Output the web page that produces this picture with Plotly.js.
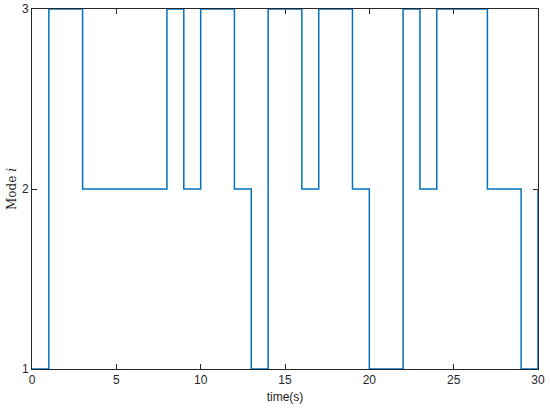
<!DOCTYPE html>
<html>
<head>
<meta charset="utf-8">
<script src="https://cdn.plot.ly/plotly-3.0.1.min.js"></script>
<style>
  body { margin: 0; background: #fff; }
  #chart { width: 550px; height: 409px; }
</style>
</head>
<body>
<div id="chart"></div>
<script>
// switching times and the mode held from each one
var times = [0, 1, 3, 8, 9, 10, 12, 13, 14, 16, 17, 19, 20, 22, 23, 24, 27, 29, 30];
var modes = [1, 3, 2, 3, 2, 3, 2, 1, 3, 2, 3, 2, 1, 3, 2, 3, 2, 1, 2];
var xTicks = [0, 5, 10, 15, 20, 25, 30];
var yTicks = [1, 2, 3];

var axisColor = '#262626';

var trace = {
  x: times,
  y: modes,
  type: 'scatter',
  mode: 'lines',
  line: { shape: 'hv', color: '#0072BD', width: 1.5 },
  cliponaxis: false,
  hoverinfo: 'none'
};

var layout = {
  width: 550,
  height: 409,
  margin: { l: 32, r: 12, t: 9, b: 40 },
  paper_bgcolor: '#fff',
  plot_bgcolor: '#fff',
  showlegend: false,
  font: { family: 'Liberation Sans, Arial, sans-serif', size: 12, color: axisColor },
  xaxis: {
    range: [0, 30],
    tickvals: xTicks,
    ticks: 'inside',
    ticklen: 5,
    tickcolor: axisColor,
    showline: true,
    linecolor: axisColor,
    linewidth: 1,
    mirror: 'allticks',
    layer: 'below traces',
    showgrid: false,
    zeroline: false,
    tickfont: { size: 12, color: axisColor },
    title: { text: 'time(s)', font: { size: 12, color: axisColor }, standoff: 6 }
  },
  yaxis: {
    range: [1, 3],
    tickvals: yTicks,
    ticks: 'inside',
    ticklen: 5,
    tickcolor: axisColor,
    showline: true,
    linecolor: axisColor,
    linewidth: 1,
    mirror: 'allticks',
    layer: 'below traces',
    showgrid: false,
    zeroline: false,
    tickfont: { size: 12, color: axisColor },
    title: { text: 'Mode <i>i</i>', font: { family: 'DejaVu Serif, serif', size: 12, color: axisColor }, standoff: 2 }
  }
};

Plotly.newPlot('chart', [trace], layout, { staticPlot: true });
</script>
</body>
</html>
